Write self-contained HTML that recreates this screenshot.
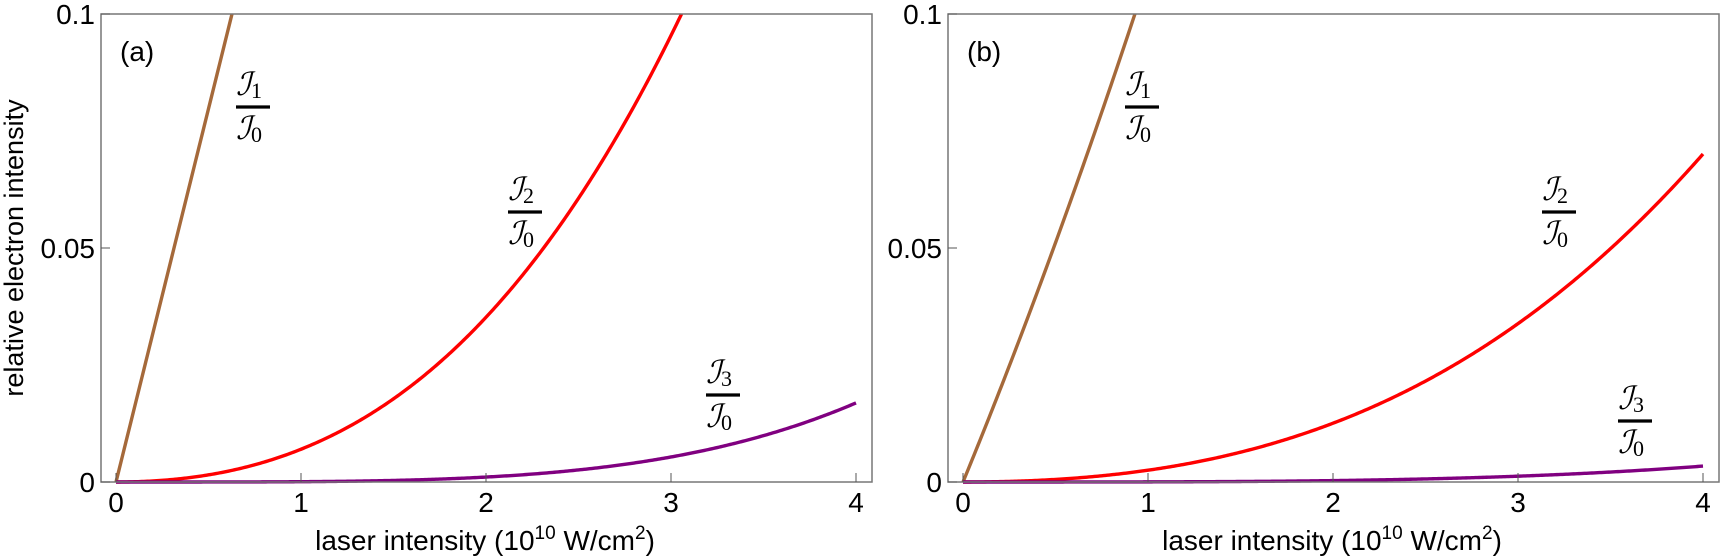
<!DOCTYPE html>
<html><head><meta charset="utf-8"><style>
html,body{margin:0;padding:0;background:#fff}
svg{display:block}
text{font-family:"Liberation Sans",sans-serif;fill:#000}
.fr{font-family:"DejaVu Serif","Liberation Serif",serif;font-style:italic;font-size:32px}
.sub{font-family:"Liberation Serif",serif;font-style:normal;font-size:22px}
</style></head><body>
<svg id="s" width="1720" height="559" viewBox="0 0 1720 559" xmlns="http://www.w3.org/2000/svg">
<g id="g"></g>
</svg>
<script>
var NS="http://www.w3.org/2000/svg",g=document.getElementById('g');
function el(t,a,txt){var e=document.createElementNS(NS,t);for(var k in a)e.setAttribute(k,a[k]);if(txt!==undefined)e.textContent=txt;g.appendChild(e);return e;}
function panel(off,lab,fs,fr){
 var L=101+off,R=872+off,T=14,B=482,x0=116+off,u=185,yy=v=>B-v/0.1*468;
 var cols=['#a5693a','#ff0000','#800080'];
 fs.forEach(function(f,i){
  var d='';for(var k=0;k<=400;k++){var x=4*k/400,v=f(x);if(v>0.1){
    var lo=0,hi=x;for(var j=0;j<40;j++){var m=(lo+hi)/2;if(f(m)>0.1)hi=m;else lo=m;}
    d+='L'+(x0+lo*u).toFixed(2)+' '+yy(0.1).toFixed(2);break;}
   d+=(k?'L':'M')+(x0+x*u).toFixed(2)+' '+yy(v).toFixed(2);}
  el('path',{d:d,fill:'none',stroke:cols[i],'stroke-width':3.4,'stroke-linejoin':'round'});
 });
 el('rect',{x:L,y:T,width:R-L,height:B-T,fill:'none',stroke:'#777','stroke-width':1.5});
 for(var i=0;i<=4;i++){var x=x0+i*u;el('line',{x1:x,y1:B,x2:x,y2:B-9,stroke:'#555','stroke-width':1});
  el('text',{x:x,y:512,'font-size':28,'text-anchor':'middle'},String(i));}
 [[0,'0'],[0.05,'0.05'],[0.1,'0.1']].forEach(function(p){var y=yy(p[0]);
  el('line',{x1:L,y1:y,x2:L+9,y2:y,stroke:'#555','stroke-width':1});
  el('text',{x:L-6,y:y+10,'font-size':28,'text-anchor':'end'},p[1]);});
 el('text',{x:L+19,y:61,'font-size':28},lab);
 el('text',{x:485+off,y:550,'font-size':28,'text-anchor':'middle'}).innerHTML='laser intensity (10<tspan dy="-11" font-size="19">10</tspan><tspan dy="11"> W/cm</tspan><tspan dy="-11" font-size="19">2</tspan><tspan dy="11">)</tspan>';
 fr.forEach(function(p){var x=p[0]+off,y=p[1];
  var t=el('text',{x:x,y:y-12,'class':'fr'});t.innerHTML='ℐ<tspan class="sub" dy="3">'+p[2]+'</tspan>';
  el('line',{x1:x,y1:y,x2:x+34,y2:y,stroke:'#000','stroke-width':3.2});
  var t2=el('text',{x:x,y:y+32,'class':'fr'});t2.innerHTML='ℐ<tspan class="sub" dy="3">0</tspan>';
 });
}
panel(0,'(a)',[x=>0.1595*x, x=>0.0052*x*x+0.0018*x*x*x, x=>0.0169*Math.pow(x/4,4)],
 [[236,107,1],[508,212,2],[706,395,3]]);
panel(847,'(b)',[x=>0.096*x+0.0125*x*x, x=>0.0019*x*x+0.00062*x*x*x, x=>0.0034*Math.pow(x/4,3.5)],
 [[278,107,1],[695,212,2],[771,421,3]]);
el('text',{x:0,y:0,'font-size':27,'text-anchor':'middle',transform:'translate(23,248) rotate(-90)'},'relative electron intensity');
</script>
</body></html>
